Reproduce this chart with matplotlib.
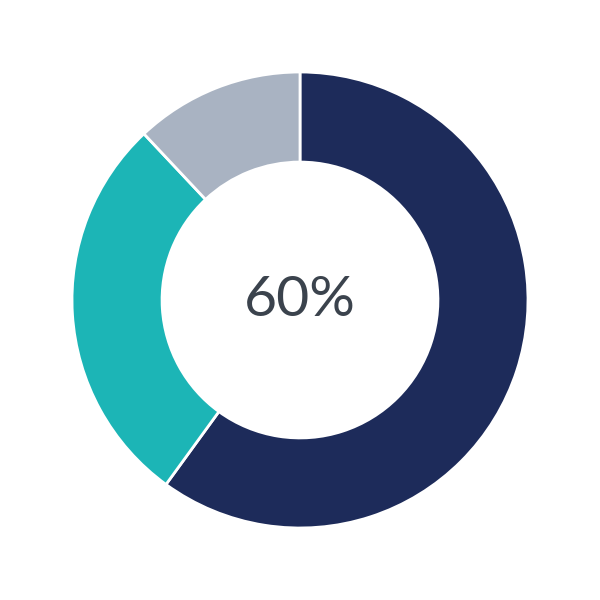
import matplotlib
matplotlib.use("Agg")
import matplotlib.pyplot as plt

labels = ["A", "B", "C"]
values = [60, 28, 12]
colors = ["#1d2b5a", "#1cb5b6", "#a9b3c2"]
center_label = "60%"

fig = plt.figure(figsize=(6, 6), dpi=100)
ax = fig.add_axes([0, 0, 1, 1])
ax.pie(values, colors=colors, startangle=90, counterclock=False,
       radius=1.0, wedgeprops=dict(width=0.395, edgecolor="white", linewidth=2))
ax.text(0, 0, center_label, ha="center", va="center", fontsize=41,
        family=["Lato", "DejaVu Sans"], color="#3b434d")
lim = 300 / 228
ax.set_xlim(-lim, lim)
ax.set_ylim(-lim, lim)
ax.set_aspect("equal")
ax.axis("off")
fig.savefig("out.png", dpi=100, facecolor="white")
